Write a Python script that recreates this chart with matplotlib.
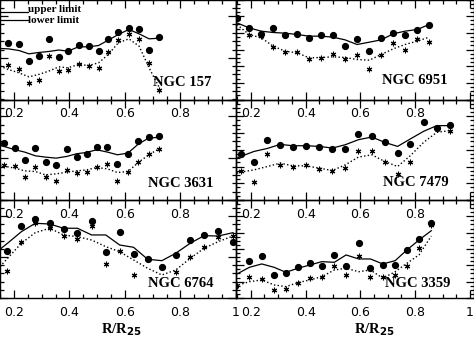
import matplotlib
matplotlib.use('Agg')
import matplotlib.pyplot as plt
from matplotlib.ticker import MultipleLocator, FixedLocator
import numpy as np

nan = np.nan

# NGC 157
r_157 = [0.180, 0.218, 0.254, 0.289, 0.325, 0.362, 0.394, 0.433, 0.469, 0.505, 0.540, 0.576, 0.614, 0.651, 0.687, 0.724]
up_157 = [8.672, 8.668, 8.468, 8.520, 8.732, 8.508, 8.576, 8.656, 8.648, 8.576, 8.728, 8.812, 8.860, 8.844, 8.600, 8.748]
lo_157 = [8.412, 8.368, 8.200, 8.240, 8.520, 8.340, 8.360, 8.432, 8.408, 8.380, 8.568, 8.712, 8.788, 8.728, 8.440, 8.120]
rfit_157 = [0.150, 0.180, 0.218, 0.254, 0.289, 0.325, 0.362, 0.394, 0.433, 0.469, 0.505, 0.540, 0.576, 0.614, 0.651, 0.687, 0.724]
fup_157 = [8.612, 8.608, 8.588, 8.548, 8.564, 8.576, 8.594, 8.580, 8.632, 8.632, 8.648, 8.712, 8.780, 8.840, 8.788, 8.728, 8.736]
flo_157 = [8.400, 8.360, 8.320, 8.272, 8.300, 8.340, 8.392, 8.380, 8.420, 8.408, 8.440, 8.540, 8.680, 8.728, 8.640, 8.380, 8.140]

# NGC 6951
r_6951 = [0.149, 0.194, 0.238, 0.282, 0.325, 0.370, 0.413, 0.457, 0.500, 0.544, 0.588, 0.633, 0.676, 0.720, 0.763, 0.808, 0.851]
up_6951 = [8.980, 8.860, 8.788, 8.860, 8.772, 8.784, 8.736, 8.780, 8.768, 8.648, 8.728, 8.580, 8.740, 8.800, 8.780, 8.840, 8.892]
lo_6951 = [nan, 8.780, 8.760, 8.632, 8.568, 8.572, 8.480, 8.496, 8.552, 8.488, 8.528, 8.372, 8.540, 8.672, 8.600, 8.732, 8.692]
fup_6951 = [8.920, 8.860, 8.820, 8.804, 8.796, 8.780, 8.760, 8.760, 8.748, 8.716, 8.660, 8.688, 8.716, 8.788, 8.820, 8.840, 8.900]
flo_6951 = [8.900, 8.780, 8.740, 8.640, 8.580, 8.560, 8.500, 8.504, 8.512, 8.504, 8.480, 8.472, 8.540, 8.608, 8.660, 8.700, 8.748]

# NGC 3631
r_3631 = [0.164, 0.204, 0.239, 0.277, 0.314, 0.352, 0.390, 0.426, 0.462, 0.498, 0.537, 0.573, 0.611, 0.648, 0.686, 0.721]
up_3631 = [8.680, 8.620, 8.480, 8.616, 8.456, 8.412, 8.612, 8.508, 8.552, 8.636, 8.632, 8.428, 8.552, 8.700, 8.748, 8.760]
lo_3631 = [8.420, 8.408, 8.280, 8.392, 8.280, 8.232, 8.360, 8.320, 8.340, 8.400, 8.428, 8.232, 8.332, 8.448, 8.552, 8.608]
rfit_3631 = [0.150, 0.164, 0.204, 0.239, 0.277, 0.314, 0.352, 0.390, 0.426, 0.462, 0.498, 0.537, 0.573, 0.611, 0.648, 0.686, 0.721]
fup_3631 = [8.652, 8.640, 8.600, 8.572, 8.528, 8.512, 8.500, 8.520, 8.552, 8.568, 8.600, 8.572, 8.540, 8.560, 8.668, 8.740, 8.748]
flo_3631 = [8.412, 8.404, 8.380, 8.348, 8.340, 8.300, 8.312, 8.332, 8.348, 8.360, 8.388, 8.372, 8.328, 8.340, 8.448, 8.540, 8.608]

# NGC 7479
r_7479 = [0.163, 0.212, 0.261, 0.307, 0.354, 0.402, 0.450, 0.498, 0.545, 0.593, 0.642, 0.689, 0.736, 0.782, 0.831, 0.879, 0.926]
up_7479 = [8.552, 8.456, 8.720, 8.656, 8.632, 8.640, 8.628, 8.608, 8.612, 8.792, 8.760, 8.692, 8.560, 8.672, 8.932, 8.860, 8.892]
lo_7479 = [8.348, 8.220, 8.552, 8.412, 8.400, 8.420, 8.368, 8.348, 8.380, 8.580, 8.580, 8.448, 8.312, 8.452, nan, 8.848, 8.820]
rfit_7479 = [0.149, 0.163, 0.212, 0.261, 0.307, 0.354, 0.402, 0.450, 0.498, 0.545, 0.593, 0.642, 0.689, 0.736, 0.782, 0.831, 0.879, 0.926]
fup_7479 = [8.500, 8.520, 8.580, 8.616, 8.664, 8.648, 8.648, 8.640, 8.620, 8.660, 8.720, 8.752, 8.688, 8.640, 8.728, 8.820, 8.888, 8.888]
flo_7479 = [8.320, 8.332, 8.360, 8.400, 8.440, 8.408, 8.408, 8.380, 8.352, 8.420, 8.512, 8.540, 8.460, 8.400, 8.528, 8.688, 8.808, 8.828]

# NGC 6764
r_6764 = [0.177, 0.227, 0.277, 0.329, 0.379, 0.429, 0.480, 0.531, 0.581, 0.631, 0.682, 0.733, 0.783, 0.835, 0.885, 0.936, 0.989]
up_6764 = [8.579, 8.882, 8.967, 8.915, 8.841, 8.800, 8.947, 8.560, 8.812, 8.539, 8.474, 8.376, 8.527, 8.710, 8.772, 8.824, 8.690]
lo_6764 = [8.335, 8.690, 8.922, 8.854, 8.763, 8.719, 8.886, 8.417, 8.576, 8.282, nan, nan, 8.323, 8.499, 8.629, 8.743, 8.759]
rfit_6764 = [0.150, 0.177, 0.227, 0.277, 0.329, 0.379, 0.429, 0.480, 0.531, 0.581, 0.631, 0.682, 0.733, 0.783, 0.835, 0.885, 0.936, 0.989]
fup_6764 = [8.597, 8.670, 8.812, 8.915, 8.906, 8.854, 8.854, 8.772, 8.772, 8.649, 8.621, 8.474, 8.457, 8.548, 8.670, 8.763, 8.759, 8.800]
flo_6764 = [8.384, 8.486, 8.670, 8.800, 8.854, 8.772, 8.751, 8.710, 8.629, 8.567, 8.466, 8.364, 8.282, 8.343, 8.486, 8.609, 8.690, 8.759]

# NGC 3359
r_3359 = [0.143, 0.195, 0.240, 0.285, 0.328, 0.372, 0.416, 0.459, 0.505, 0.548, 0.594, 0.637, 0.682, 0.727, 0.770, 0.814, 0.859]
up_3359 = [8.147, 8.457, 8.515, 8.278, 8.303, 8.376, 8.433, 8.392, 8.527, 8.392, 8.670, 8.372, 8.404, 8.404, 8.588, 8.723, 8.922]
lo_3359 = [8.160, 8.261, 8.233, 8.098, 8.114, 8.188, 8.242, 8.254, 8.392, 8.278, 8.515, 8.254, 8.261, 8.282, 8.392, 8.609, 8.894]
fup_3359 = [8.282, 8.376, 8.417, 8.376, 8.315, 8.364, 8.404, 8.445, 8.437, 8.527, 8.478, 8.478, 8.417, 8.457, 8.588, 8.710, 8.824]
flo_3359 = [8.147, 8.200, 8.221, 8.160, 8.139, 8.188, 8.221, 8.261, 8.343, 8.364, 8.322, 8.343, 8.242, 8.322, 8.425, 8.527, 8.759]

names = ["NGC 157", "NGC 6951", "NGC 3631", "NGC 7479", "NGC 6764", "NGC 3359"]
tick_vals = [0.2, 0.4, 0.6, 0.8, 1.0]

#----------------------------------------------------------
""" panels """

panels = [
    (r_157, up_157, lo_157, rfit_157, fup_157, flo_157),
    (r_6951, up_6951, lo_6951, r_6951, fup_6951, flo_6951),
    (r_3631, up_3631, lo_3631, rfit_3631, fup_3631, flo_3631),
    (r_7479, up_7479, lo_7479, rfit_7479, fup_7479, flo_7479),
    (r_6764, up_6764, lo_6764, rfit_6764, fup_6764, flo_6764),
    (r_3359, up_3359, lo_3359, r_3359, fup_3359, flo_3359),
]

W, H = 474.0, 339.0
fig = plt.figure(figsize=(4.74, 3.39), dpi=100)
fig.patch.set_facecolor('white')

col_x = [(0, 236), (236, 474)]
row_y = [(-0.5, 99.5), (99.5, 200), (200, 298)]
label_pos = [(0.648, 0.166), (0.613, 0.186), (0.627, 0.169),
             (0.618, 0.179), (0.627, 0.143), (0.626, 0.143)]

serif = ['Liberation Serif', 'DejaVu Serif']

axes = []
for i, (r, up, lo, rf, fu, fl) in enumerate(panels):
    row, col = i // 2, i % 2
    x0, x1 = col_x[col]
    y0, y1 = row_y[row]
    ax = fig.add_axes([x0 / W, 1 - y1 / H, (x1 - x0) / W, (y1 - y0) / H])
    ax.set_facecolor('none')
    axes.append(ax)

    ax.plot(rf, fu, '-', color='black', lw=0.9)
    ax.plot(rf, fl, ':', color='black', lw=1.0)
    ax.plot(r, up, 'o', color='black', ms=4.2)
    ax.plot(r, lo, marker=(6, 2, 0), ls='none', color='black', ms=4.0, mew=0.8)

    if col == 0:
        ax.set_xlim(0.15, 1.0)
        ax.yaxis.set_major_locator(MultipleLocator(0.5))
        ax.yaxis.set_minor_locator(MultipleLocator(0.1))
    else:
        ax.set_xlim(0.146, 1.015)
        ax.yaxis.set_major_locator(MultipleLocator(0.2))
        ax.yaxis.set_minor_locator(MultipleLocator(0.05))
    ax.set_ylim(8.0, 9.2)

    ax.xaxis.set_major_locator(FixedLocator(tick_vals))
    ax.xaxis.set_minor_locator(MultipleLocator(0.05))
    if row == 2:
        ax.set_xticklabels(['0.2', '0.4', '0.6', '0.8', '1'])
    else:
        ax.set_xticklabels(['0.2', '0.4', '0.6', '0.8', ''])

    ax.tick_params(which='both', direction='in', top=True, right=True,
                   labelleft=False, width=0.9)
    ax.tick_params(which='major', length=5.5, pad=5.5, labelsize=9)
    ax.tick_params(which='minor', length=3)
    for s in ax.spines.values():
        s.set_linewidth(1.0)

    ax.text(label_pos[i][0], label_pos[i][1], names[i], transform=ax.transAxes,
            ha='left', va='center', fontsize=10.5, fontweight='bold', family=serif)

# legend in the first panel
ax = axes[0]
ax.plot([0, 0.119], [0.872, 0.872], '-', color='black', lw=0.9, transform=ax.transAxes, clip_on=False)
ax.plot([0, 0.119], [0.792, 0.792], '-', color='black', lw=0.9, transform=ax.transAxes, clip_on=False)
ax.text(0.119, 0.880, "upper limit", transform=ax.transAxes, ha='left', va='baseline',
        fontsize=8, fontweight='bold', family=serif)
ax.text(0.119, 0.766, "lower limit", transform=ax.transAxes, ha='left', va='baseline',
        fontsize=8, fontweight='bold', family=serif)

fig.text(121 / W, 1 - 330 / H, r"R/R$_{\mathbf{25}}$", ha='center', va='center',
         fontsize=10.5, fontweight='bold', family=serif)
fig.text(374 / W, 1 - 330 / H, r"R/R$_{\mathbf{25}}$", ha='center', va='center',
         fontsize=10.5, fontweight='bold', family=serif)

plt.savefig("out.png", dpi=100)
